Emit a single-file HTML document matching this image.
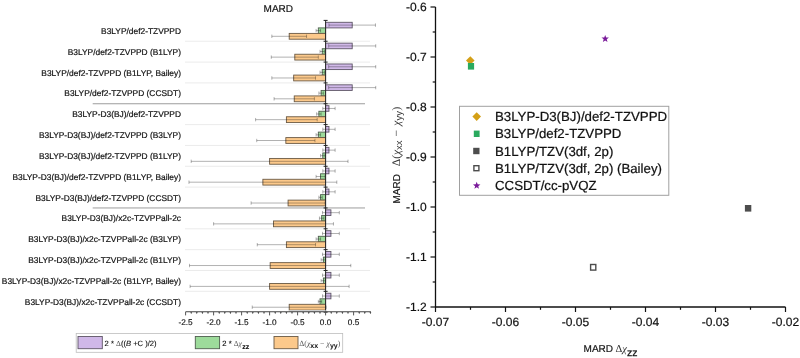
<!DOCTYPE html>
<html><head><meta charset="utf-8"><style>
html,body{margin:0;padding:0;background:#fff;width:800px;height:358px;overflow:hidden}
svg{display:block;will-change:transform}
</style></head><body>
<svg text-rendering="geometricPrecision" width="800" height="358" viewBox="0 0 800 358">
<rect width="800" height="358" fill="#fff"/>
<text x="278.3" y="12.2" font-size="10" text-anchor="middle" font-family="Liberation Sans, sans-serif" fill="#111" stroke="#111" stroke-width="0.18">MARD</text>
<line x1="185" y1="41.24" x2="370" y2="41.24" stroke="#e6e6e6" stroke-width="0.8"/>
<line x1="185" y1="62.08" x2="370" y2="62.08" stroke="#e6e6e6" stroke-width="0.8"/>
<line x1="185" y1="82.92" x2="370" y2="82.92" stroke="#e6e6e6" stroke-width="0.8"/>
<line x1="92.7" y1="103.76" x2="365" y2="103.76" stroke="#9c9c9c" stroke-width="1"/>
<line x1="185" y1="124.60" x2="370" y2="124.60" stroke="#e6e6e6" stroke-width="0.8"/>
<line x1="185" y1="145.44" x2="370" y2="145.44" stroke="#e6e6e6" stroke-width="0.8"/>
<line x1="185" y1="166.28" x2="370" y2="166.28" stroke="#e6e6e6" stroke-width="0.8"/>
<line x1="185" y1="187.12" x2="370" y2="187.12" stroke="#e6e6e6" stroke-width="0.8"/>
<line x1="92.7" y1="207.96" x2="365" y2="207.96" stroke="#9c9c9c" stroke-width="1"/>
<line x1="185" y1="228.80" x2="370" y2="228.80" stroke="#e6e6e6" stroke-width="0.8"/>
<line x1="185" y1="249.64" x2="370" y2="249.64" stroke="#e6e6e6" stroke-width="0.8"/>
<line x1="185" y1="270.48" x2="370" y2="270.48" stroke="#e6e6e6" stroke-width="0.8"/>
<line x1="185" y1="291.32" x2="370" y2="291.32" stroke="#e6e6e6" stroke-width="0.8"/>
<text x="181" y="33.82" font-size="8.4" text-anchor="end" font-family="Liberation Sans, sans-serif" fill="#111" stroke="#111" stroke-width="0.2">B3LYP/def2-TZVPPD</text>
<text x="181" y="54.66" font-size="8.4" text-anchor="end" font-family="Liberation Sans, sans-serif" fill="#111" stroke="#111" stroke-width="0.2">B3LYP/def2-TZVPPD (B1LYP)</text>
<text x="181" y="75.50" font-size="8.4" text-anchor="end" font-family="Liberation Sans, sans-serif" fill="#111" stroke="#111" stroke-width="0.2">B3LYP/def2-TZVPPD (B1LYP, Bailey)</text>
<text x="181" y="96.34" font-size="8.4" text-anchor="end" font-family="Liberation Sans, sans-serif" fill="#111" stroke="#111" stroke-width="0.2">B3LYP/def2-TZVPPD (CCSDT)</text>
<text x="181" y="117.18" font-size="8.4" text-anchor="end" font-family="Liberation Sans, sans-serif" fill="#111" stroke="#111" stroke-width="0.2">B3LYP-D3(BJ)/def2-TZVPPD</text>
<text x="181" y="138.02" font-size="8.4" text-anchor="end" font-family="Liberation Sans, sans-serif" fill="#111" stroke="#111" stroke-width="0.2">B3LYP-D3(BJ)/def2-TZVPPD (B3LYP)</text>
<text x="181" y="158.86" font-size="8.4" text-anchor="end" font-family="Liberation Sans, sans-serif" fill="#111" stroke="#111" stroke-width="0.2">B3LYP-D3(BJ)/def2-TZVPPD (B1LYP)</text>
<text x="181" y="179.70" font-size="8.4" text-anchor="end" font-family="Liberation Sans, sans-serif" fill="#111" stroke="#111" stroke-width="0.2">B3LYP-D3(BJ)/def2-TZVPPD (B1LYP, Bailey)</text>
<text x="181" y="200.54" font-size="8.4" text-anchor="end" font-family="Liberation Sans, sans-serif" fill="#111" stroke="#111" stroke-width="0.2">B3LYP-D3(BJ)/def2-TZVPPD (CCSDT)</text>
<text x="181" y="221.38" font-size="8.4" text-anchor="end" font-family="Liberation Sans, sans-serif" fill="#111" stroke="#111" stroke-width="0.2">B3LYP-D3(BJ)/x2c-TZVPPall-2c</text>
<text x="181" y="242.22" font-size="8.4" text-anchor="end" font-family="Liberation Sans, sans-serif" fill="#111" stroke="#111" stroke-width="0.2">B3LYP-D3(BJ)/x2c-TZVPPall-2c (B3LYP)</text>
<text x="181" y="263.06" font-size="8.4" text-anchor="end" font-family="Liberation Sans, sans-serif" fill="#111" stroke="#111" stroke-width="0.2">B3LYP-D3(BJ)/x2c-TZVPPall-2c (B1LYP)</text>
<text x="181" y="283.90" font-size="8.4" text-anchor="end" font-family="Liberation Sans, sans-serif" fill="#111" stroke="#111" stroke-width="0.2">B3LYP-D3(BJ)/x2c-TZVPPall-2c (B1LYP, Bailey)</text>
<text x="181" y="304.74" font-size="8.4" text-anchor="end" font-family="Liberation Sans, sans-serif" fill="#111" stroke="#111" stroke-width="0.2">B3LYP-D3(BJ)/x2c-TZVPPall-2c (CCSDT)</text>
<rect x="325.60" y="22.30" width="26.60" height="5.60" fill="#d0b8e8" stroke="#5e5566" stroke-width="0.9"/>
<rect x="318.32" y="27.90" width="7.28" height="5.50" fill="#9ddb9b" stroke="#4f5e4f" stroke-width="0.9"/>
<rect x="289.20" y="33.40" width="36.40" height="5.80" fill="#fcc98b" stroke="#6b5a45" stroke-width="0.9"/>
<path d="M328.96,25.10H375.44M328.96,23.40V26.80M375.44,23.40V26.80" stroke="#000" stroke-opacity="0.34" stroke-width="0.9" fill="none"/>
<path d="M316.08,30.65H320.56M316.08,28.95V32.35M320.56,28.95V32.35" stroke="#000" stroke-opacity="0.34" stroke-width="0.9" fill="none"/>
<path d="M271.84,36.30H306.56M271.84,34.60V38.00M306.56,34.60V38.00" stroke="#000" stroke-opacity="0.34" stroke-width="0.9" fill="none"/>
<rect x="325.60" y="43.14" width="26.60" height="5.60" fill="#d0b8e8" stroke="#5e5566" stroke-width="0.9"/>
<rect x="322.24" y="48.74" width="3.36" height="5.50" fill="#9ddb9b" stroke="#4f5e4f" stroke-width="0.9"/>
<rect x="294.80" y="54.24" width="30.80" height="5.80" fill="#fcc98b" stroke="#6b5a45" stroke-width="0.9"/>
<path d="M328.68,45.94H375.72M328.68,44.24V47.64M375.72,44.24V47.64" stroke="#000" stroke-opacity="0.34" stroke-width="0.9" fill="none"/>
<path d="M320.00,51.49H324.48M320.00,49.79V53.19M324.48,49.79V53.19" stroke="#000" stroke-opacity="0.34" stroke-width="0.9" fill="none"/>
<path d="M271.28,57.14H318.32M271.28,55.44V58.84M318.32,55.44V58.84" stroke="#000" stroke-opacity="0.34" stroke-width="0.9" fill="none"/>
<rect x="325.60" y="63.98" width="26.60" height="5.60" fill="#d0b8e8" stroke="#5e5566" stroke-width="0.9"/>
<rect x="322.24" y="69.58" width="3.36" height="5.50" fill="#9ddb9b" stroke="#4f5e4f" stroke-width="0.9"/>
<rect x="293.68" y="75.08" width="31.92" height="5.80" fill="#fcc98b" stroke="#6b5a45" stroke-width="0.9"/>
<path d="M328.68,66.78H375.72M328.68,65.08V68.48M375.72,65.08V68.48" stroke="#000" stroke-opacity="0.34" stroke-width="0.9" fill="none"/>
<path d="M320.00,72.33H324.48M320.00,70.63V74.03M324.48,70.63V74.03" stroke="#000" stroke-opacity="0.34" stroke-width="0.9" fill="none"/>
<path d="M271.84,77.98H315.52M271.84,76.28V79.68M315.52,76.28V79.68" stroke="#000" stroke-opacity="0.34" stroke-width="0.9" fill="none"/>
<rect x="325.60" y="84.82" width="26.60" height="5.60" fill="#d0b8e8" stroke="#5e5566" stroke-width="0.9"/>
<rect x="321.12" y="90.42" width="4.48" height="5.50" fill="#9ddb9b" stroke="#4f5e4f" stroke-width="0.9"/>
<rect x="294.24" y="95.92" width="31.36" height="5.80" fill="#fcc98b" stroke="#6b5a45" stroke-width="0.9"/>
<path d="M328.68,87.62H375.72M328.68,85.92V89.32M375.72,85.92V89.32" stroke="#000" stroke-opacity="0.34" stroke-width="0.9" fill="none"/>
<path d="M318.88,93.17H323.36M318.88,91.47V94.87M323.36,91.47V94.87" stroke="#000" stroke-opacity="0.34" stroke-width="0.9" fill="none"/>
<path d="M274.08,98.82H314.40M274.08,97.12V100.52M314.40,97.12V100.52" stroke="#000" stroke-opacity="0.34" stroke-width="0.9" fill="none"/>
<rect x="325.60" y="105.66" width="3.36" height="5.60" fill="#d0b8e8" stroke="#5e5566" stroke-width="0.9"/>
<rect x="318.88" y="111.26" width="6.72" height="5.50" fill="#9ddb9b" stroke="#4f5e4f" stroke-width="0.9"/>
<rect x="286.40" y="116.76" width="39.20" height="5.80" fill="#fcc98b" stroke="#6b5a45" stroke-width="0.9"/>
<path d="M322.80,108.46H335.12M322.80,106.76V110.16M335.12,106.76V110.16" stroke="#000" stroke-opacity="0.34" stroke-width="0.9" fill="none"/>
<path d="M316.64,114.01H321.12M316.64,112.31V115.71M321.12,112.31V115.71" stroke="#000" stroke-opacity="0.34" stroke-width="0.9" fill="none"/>
<path d="M255.60,119.66H317.20M255.60,117.96V121.36M317.20,117.96V121.36" stroke="#000" stroke-opacity="0.34" stroke-width="0.9" fill="none"/>
<rect x="325.60" y="126.50" width="3.36" height="5.60" fill="#d0b8e8" stroke="#5e5566" stroke-width="0.9"/>
<rect x="318.32" y="132.10" width="7.28" height="5.50" fill="#9ddb9b" stroke="#4f5e4f" stroke-width="0.9"/>
<rect x="285.84" y="137.60" width="39.76" height="5.80" fill="#fcc98b" stroke="#6b5a45" stroke-width="0.9"/>
<path d="M322.80,129.30H335.12M322.80,127.60V131.00M335.12,127.60V131.00" stroke="#000" stroke-opacity="0.34" stroke-width="0.9" fill="none"/>
<path d="M316.08,134.85H320.56M316.08,133.15V136.55M320.56,133.15V136.55" stroke="#000" stroke-opacity="0.34" stroke-width="0.9" fill="none"/>
<path d="M256.72,140.50H314.96M256.72,138.80V142.20M314.96,138.80V142.20" stroke="#000" stroke-opacity="0.34" stroke-width="0.9" fill="none"/>
<rect x="325.60" y="147.34" width="3.36" height="5.60" fill="#d0b8e8" stroke="#5e5566" stroke-width="0.9"/>
<rect x="322.80" y="152.94" width="2.80" height="5.50" fill="#9ddb9b" stroke="#4f5e4f" stroke-width="0.9"/>
<rect x="269.60" y="158.44" width="56.00" height="5.80" fill="#fcc98b" stroke="#6b5a45" stroke-width="0.9"/>
<path d="M322.80,150.14H335.12M322.80,148.44V151.84M335.12,148.44V151.84" stroke="#000" stroke-opacity="0.34" stroke-width="0.9" fill="none"/>
<path d="M320.56,155.69H325.04M320.56,153.99V157.39M325.04,153.99V157.39" stroke="#000" stroke-opacity="0.34" stroke-width="0.9" fill="none"/>
<path d="M191.20,161.34H348.00M191.20,159.64V163.04M348.00,159.64V163.04" stroke="#000" stroke-opacity="0.34" stroke-width="0.9" fill="none"/>
<rect x="325.60" y="168.18" width="3.36" height="5.60" fill="#d0b8e8" stroke="#5e5566" stroke-width="0.9"/>
<rect x="320.56" y="173.78" width="5.04" height="5.50" fill="#9ddb9b" stroke="#4f5e4f" stroke-width="0.9"/>
<rect x="262.88" y="179.28" width="62.72" height="5.80" fill="#fcc98b" stroke="#6b5a45" stroke-width="0.9"/>
<path d="M322.80,170.98H335.12M322.80,169.28V172.68M335.12,169.28V172.68" stroke="#000" stroke-opacity="0.34" stroke-width="0.9" fill="none"/>
<path d="M316.08,176.53H325.04M316.08,174.83V178.23M325.04,174.83V178.23" stroke="#000" stroke-opacity="0.34" stroke-width="0.9" fill="none"/>
<path d="M188.96,182.18H336.80M188.96,180.48V183.88M336.80,180.48V183.88" stroke="#000" stroke-opacity="0.34" stroke-width="0.9" fill="none"/>
<rect x="325.60" y="189.02" width="3.36" height="5.60" fill="#d0b8e8" stroke="#5e5566" stroke-width="0.9"/>
<rect x="320.56" y="194.62" width="5.04" height="5.50" fill="#9ddb9b" stroke="#4f5e4f" stroke-width="0.9"/>
<rect x="288.08" y="200.12" width="37.52" height="5.80" fill="#fcc98b" stroke="#6b5a45" stroke-width="0.9"/>
<path d="M322.80,191.82H335.12M322.80,190.12V193.52M335.12,190.12V193.52" stroke="#000" stroke-opacity="0.34" stroke-width="0.9" fill="none"/>
<path d="M318.88,197.37H322.24M318.88,195.67V199.07M322.24,195.67V199.07" stroke="#000" stroke-opacity="0.34" stroke-width="0.9" fill="none"/>
<path d="M251.12,203.02H325.04M251.12,201.32V204.72M325.04,201.32V204.72" stroke="#000" stroke-opacity="0.34" stroke-width="0.9" fill="none"/>
<rect x="325.60" y="209.86" width="5.32" height="5.60" fill="#d0b8e8" stroke="#5e5566" stroke-width="0.9"/>
<rect x="321.68" y="215.46" width="3.92" height="5.50" fill="#9ddb9b" stroke="#4f5e4f" stroke-width="0.9"/>
<rect x="273.52" y="220.96" width="52.08" height="5.80" fill="#fcc98b" stroke="#6b5a45" stroke-width="0.9"/>
<path d="M322.52,212.66H339.32M322.52,210.96V214.36M339.32,210.96V214.36" stroke="#000" stroke-opacity="0.34" stroke-width="0.9" fill="none"/>
<path d="M319.44,218.21H323.92M319.44,216.51V219.91M323.92,216.51V219.91" stroke="#000" stroke-opacity="0.34" stroke-width="0.9" fill="none"/>
<path d="M213.60,223.86H333.44M213.60,222.16V225.56M333.44,222.16V225.56" stroke="#000" stroke-opacity="0.34" stroke-width="0.9" fill="none"/>
<rect x="325.60" y="230.70" width="5.32" height="5.60" fill="#d0b8e8" stroke="#5e5566" stroke-width="0.9"/>
<rect x="318.32" y="236.30" width="7.28" height="5.50" fill="#9ddb9b" stroke="#4f5e4f" stroke-width="0.9"/>
<rect x="286.40" y="241.80" width="39.20" height="5.80" fill="#fcc98b" stroke="#6b5a45" stroke-width="0.9"/>
<path d="M322.52,233.50H339.32M322.52,231.80V235.20M339.32,231.80V235.20" stroke="#000" stroke-opacity="0.34" stroke-width="0.9" fill="none"/>
<path d="M316.08,239.05H320.56M316.08,237.35V240.75M320.56,237.35V240.75" stroke="#000" stroke-opacity="0.34" stroke-width="0.9" fill="none"/>
<path d="M257.28,244.70H315.52M257.28,243.00V246.40M315.52,243.00V246.40" stroke="#000" stroke-opacity="0.34" stroke-width="0.9" fill="none"/>
<rect x="325.60" y="251.54" width="5.32" height="5.60" fill="#d0b8e8" stroke="#5e5566" stroke-width="0.9"/>
<rect x="323.36" y="257.14" width="2.24" height="5.50" fill="#9ddb9b" stroke="#4f5e4f" stroke-width="0.9"/>
<rect x="270.16" y="262.64" width="55.44" height="5.80" fill="#fcc98b" stroke="#6b5a45" stroke-width="0.9"/>
<path d="M322.52,254.34H339.32M322.52,252.64V256.04M339.32,252.64V256.04" stroke="#000" stroke-opacity="0.34" stroke-width="0.9" fill="none"/>
<path d="M321.12,259.89H325.60M321.12,258.19V261.59M325.60,258.19V261.59" stroke="#000" stroke-opacity="0.34" stroke-width="0.9" fill="none"/>
<path d="M189.52,265.54H350.80M189.52,263.84V267.24M350.80,263.84V267.24" stroke="#000" stroke-opacity="0.34" stroke-width="0.9" fill="none"/>
<rect x="325.60" y="272.38" width="5.32" height="5.60" fill="#d0b8e8" stroke="#5e5566" stroke-width="0.9"/>
<rect x="323.36" y="277.98" width="2.24" height="5.50" fill="#9ddb9b" stroke="#4f5e4f" stroke-width="0.9"/>
<rect x="269.60" y="283.48" width="56.00" height="5.80" fill="#fcc98b" stroke="#6b5a45" stroke-width="0.9"/>
<path d="M322.52,275.18H339.32M322.52,273.48V276.88M339.32,273.48V276.88" stroke="#000" stroke-opacity="0.34" stroke-width="0.9" fill="none"/>
<path d="M321.12,280.73H325.60M321.12,279.03V282.43M325.60,279.03V282.43" stroke="#000" stroke-opacity="0.34" stroke-width="0.9" fill="none"/>
<path d="M190.08,286.38H349.12M190.08,284.68V288.08M349.12,284.68V288.08" stroke="#000" stroke-opacity="0.34" stroke-width="0.9" fill="none"/>
<rect x="325.60" y="293.22" width="5.32" height="5.60" fill="#d0b8e8" stroke="#5e5566" stroke-width="0.9"/>
<rect x="320.00" y="298.82" width="5.60" height="5.50" fill="#9ddb9b" stroke="#4f5e4f" stroke-width="0.9"/>
<rect x="289.20" y="304.32" width="36.40" height="5.80" fill="#fcc98b" stroke="#6b5a45" stroke-width="0.9"/>
<path d="M322.52,296.02H339.32M322.52,294.32V297.72M339.32,294.32V297.72" stroke="#000" stroke-opacity="0.34" stroke-width="0.9" fill="none"/>
<path d="M318.32,301.57H321.68M318.32,299.87V303.27M321.68,299.87V303.27" stroke="#000" stroke-opacity="0.34" stroke-width="0.9" fill="none"/>
<path d="M252.24,307.22H326.16M252.24,305.52V308.92M326.16,305.52V308.92" stroke="#000" stroke-opacity="0.34" stroke-width="0.9" fill="none"/>
<line x1="325.6" y1="20.4" x2="325.6" y2="312.15999999999997" stroke="#2a2a2a" stroke-width="1"/>
<line x1="323.6" y1="20.40" x2="327.6" y2="20.40" stroke="#222" stroke-width="1"/>
<line x1="323.6" y1="41.24" x2="327.6" y2="41.24" stroke="#222" stroke-width="1"/>
<line x1="323.6" y1="62.08" x2="327.6" y2="62.08" stroke="#222" stroke-width="1"/>
<line x1="323.6" y1="82.92" x2="327.6" y2="82.92" stroke="#222" stroke-width="1"/>
<line x1="323.6" y1="103.76" x2="327.6" y2="103.76" stroke="#222" stroke-width="1"/>
<line x1="323.6" y1="124.60" x2="327.6" y2="124.60" stroke="#222" stroke-width="1"/>
<line x1="323.6" y1="145.44" x2="327.6" y2="145.44" stroke="#222" stroke-width="1"/>
<line x1="323.6" y1="166.28" x2="327.6" y2="166.28" stroke="#222" stroke-width="1"/>
<line x1="323.6" y1="187.12" x2="327.6" y2="187.12" stroke="#222" stroke-width="1"/>
<line x1="323.6" y1="207.96" x2="327.6" y2="207.96" stroke="#222" stroke-width="1"/>
<line x1="323.6" y1="228.80" x2="327.6" y2="228.80" stroke="#222" stroke-width="1"/>
<line x1="323.6" y1="249.64" x2="327.6" y2="249.64" stroke="#222" stroke-width="1"/>
<line x1="323.6" y1="270.48" x2="327.6" y2="270.48" stroke="#222" stroke-width="1"/>
<line x1="323.6" y1="291.32" x2="327.6" y2="291.32" stroke="#222" stroke-width="1"/>
<line x1="323.6" y1="312.16" x2="327.6" y2="312.16" stroke="#222" stroke-width="1"/>
<rect x="289.20" y="310.00" width="36.40" height="1.8" fill="#cfcfcf"/>
<line x1="185.60" y1="311.80" x2="370.96" y2="311.80" stroke="#444" stroke-width="1.1"/>
<line x1="185.60" y1="311.80" x2="185.60" y2="315.40" stroke="#555" stroke-width="1"/>
<path d="M190.30,312.30L192.10,312.30L191.20,314.10Z" fill="#222"/>
<path d="M195.90,312.30L197.70,312.30L196.80,314.10Z" fill="#222"/>
<path d="M201.50,312.30L203.30,312.30L202.40,314.10Z" fill="#222"/>
<path d="M207.10,312.30L208.90,312.30L208.00,314.10Z" fill="#222"/>
<line x1="213.60" y1="311.80" x2="213.60" y2="315.40" stroke="#555" stroke-width="1"/>
<path d="M218.30,312.30L220.10,312.30L219.20,314.10Z" fill="#222"/>
<path d="M223.90,312.30L225.70,312.30L224.80,314.10Z" fill="#222"/>
<path d="M229.50,312.30L231.30,312.30L230.40,314.10Z" fill="#222"/>
<path d="M235.10,312.30L236.90,312.30L236.00,314.10Z" fill="#222"/>
<line x1="241.60" y1="311.80" x2="241.60" y2="315.40" stroke="#555" stroke-width="1"/>
<path d="M246.30,312.30L248.10,312.30L247.20,314.10Z" fill="#222"/>
<path d="M251.90,312.30L253.70,312.30L252.80,314.10Z" fill="#222"/>
<path d="M257.50,312.30L259.30,312.30L258.40,314.10Z" fill="#222"/>
<path d="M263.10,312.30L264.90,312.30L264.00,314.10Z" fill="#222"/>
<line x1="269.60" y1="311.80" x2="269.60" y2="315.40" stroke="#555" stroke-width="1"/>
<path d="M274.30,312.30L276.10,312.30L275.20,314.10Z" fill="#222"/>
<path d="M279.90,312.30L281.70,312.30L280.80,314.10Z" fill="#222"/>
<path d="M285.50,312.30L287.30,312.30L286.40,314.10Z" fill="#222"/>
<path d="M291.10,312.30L292.90,312.30L292.00,314.10Z" fill="#222"/>
<line x1="297.60" y1="311.80" x2="297.60" y2="315.40" stroke="#555" stroke-width="1"/>
<path d="M302.30,312.30L304.10,312.30L303.20,314.10Z" fill="#222"/>
<path d="M307.90,312.30L309.70,312.30L308.80,314.10Z" fill="#222"/>
<path d="M313.50,312.30L315.30,312.30L314.40,314.10Z" fill="#222"/>
<path d="M319.10,312.30L320.90,312.30L320.00,314.10Z" fill="#222"/>
<line x1="325.60" y1="311.80" x2="325.60" y2="315.40" stroke="#555" stroke-width="1"/>
<path d="M330.30,312.30L332.10,312.30L331.20,314.10Z" fill="#222"/>
<path d="M335.90,312.30L337.70,312.30L336.80,314.10Z" fill="#222"/>
<path d="M341.50,312.30L343.30,312.30L342.40,314.10Z" fill="#222"/>
<path d="M347.10,312.30L348.90,312.30L348.00,314.10Z" fill="#222"/>
<line x1="353.60" y1="311.80" x2="353.60" y2="315.40" stroke="#555" stroke-width="1"/>
<path d="M358.30,312.30L360.10,312.30L359.20,314.10Z" fill="#222"/>
<path d="M363.90,312.30L365.70,312.30L364.80,314.10Z" fill="#222"/>
<path d="M369.50,312.30L371.30,312.30L370.40,314.10Z" fill="#222"/>
<text x="185.60" y="324.7" font-size="8.25" text-anchor="middle" font-family="Liberation Sans, sans-serif" fill="#111" stroke="#111" stroke-width="0.15">-2.5</text>
<text x="213.60" y="324.7" font-size="8.25" text-anchor="middle" font-family="Liberation Sans, sans-serif" fill="#111" stroke="#111" stroke-width="0.15">-2.0</text>
<text x="241.60" y="324.7" font-size="8.25" text-anchor="middle" font-family="Liberation Sans, sans-serif" fill="#111" stroke="#111" stroke-width="0.15">-1.5</text>
<text x="269.60" y="324.7" font-size="8.25" text-anchor="middle" font-family="Liberation Sans, sans-serif" fill="#111" stroke="#111" stroke-width="0.15">-1.0</text>
<text x="297.60" y="324.7" font-size="8.25" text-anchor="middle" font-family="Liberation Sans, sans-serif" fill="#111" stroke="#111" stroke-width="0.15">-0.5</text>
<text x="325.60" y="324.7" font-size="8.25" text-anchor="middle" font-family="Liberation Sans, sans-serif" fill="#111" stroke="#111" stroke-width="0.15">0.0</text>
<text x="353.60" y="324.7" font-size="8.25" text-anchor="middle" font-family="Liberation Sans, sans-serif" fill="#111" stroke="#111" stroke-width="0.15">0.5</text>
<rect x="76.2" y="333.5" width="266.5" height="18.8" fill="#fff" stroke="#bdbdbd" stroke-width="0.8"/>
<rect x="78" y="336.5" width="24.3" height="12.2" fill="#d0b8e8" stroke="#5e5566" stroke-width="0.9"/>
<rect x="195.3" y="336.5" width="24.3" height="12.2" fill="#9ddb9b" stroke="#4f5e4f" stroke-width="0.9"/>
<rect x="274" y="336.5" width="24" height="12.2" fill="#fcc98b" stroke="#6b5a45" stroke-width="0.9"/>
<text x="104.6" y="345.8" font-size="7.6" font-family="Liberation Sans, sans-serif" fill="#111" stroke="#111" stroke-width="0.12">2 * <tspan font-family="Liberation Serif, serif" stroke="none" fill="#444">Δ</tspan>((<tspan font-style="italic">B</tspan> +C )/2)</text>
<text x="222.3" y="345.8" font-size="7.6" font-family="Liberation Sans, sans-serif" fill="#111" stroke="#111" stroke-width="0.15">2 * <tspan font-family="Liberation Serif, serif" fill="#555" stroke="none">Δ<tspan font-style="italic">χ</tspan></tspan><tspan font-weight="bold" dy="3.1" font-size="7" dx="0.3">zz</tspan></text>
<text x="299.3" y="345.8" font-size="7.8" font-family="Liberation Serif, serif" fill="#555">Δ(<tspan font-style="italic">χ</tspan><tspan font-family="Liberation Sans, sans-serif" font-weight="bold" dy="2.6" font-size="7" fill="#111">xx</tspan><tspan dy="-2.6"> − </tspan><tspan font-style="italic">χ</tspan><tspan font-family="Liberation Sans, sans-serif" font-weight="bold" dy="2.6" font-size="7" fill="#111">yy</tspan><tspan dy="-2.6">)</tspan></text>
<line x1="435.5" y1="7.0" x2="435.5" y2="307.00" stroke="#111" stroke-width="1.3"/>
<line x1="435.5" y1="307.00" x2="785.50" y2="307.00" stroke="#111" stroke-width="1.3"/>
<line x1="430.50" y1="7.00" x2="435.5" y2="7.00" stroke="#111" stroke-width="1.2"/>
<line x1="432.70" y1="32.00" x2="435.5" y2="32.00" stroke="#111" stroke-width="1.2"/>
<line x1="430.50" y1="57.00" x2="435.5" y2="57.00" stroke="#111" stroke-width="1.2"/>
<line x1="432.70" y1="82.00" x2="435.5" y2="82.00" stroke="#111" stroke-width="1.2"/>
<line x1="430.50" y1="107.00" x2="435.5" y2="107.00" stroke="#111" stroke-width="1.2"/>
<line x1="432.70" y1="132.00" x2="435.5" y2="132.00" stroke="#111" stroke-width="1.2"/>
<line x1="430.50" y1="157.00" x2="435.5" y2="157.00" stroke="#111" stroke-width="1.2"/>
<line x1="432.70" y1="182.00" x2="435.5" y2="182.00" stroke="#111" stroke-width="1.2"/>
<line x1="430.50" y1="207.00" x2="435.5" y2="207.00" stroke="#111" stroke-width="1.2"/>
<line x1="432.70" y1="232.00" x2="435.5" y2="232.00" stroke="#111" stroke-width="1.2"/>
<line x1="430.50" y1="257.00" x2="435.5" y2="257.00" stroke="#111" stroke-width="1.2"/>
<line x1="432.70" y1="282.00" x2="435.5" y2="282.00" stroke="#111" stroke-width="1.2"/>
<line x1="430.50" y1="307.00" x2="435.5" y2="307.00" stroke="#111" stroke-width="1.2"/>
<line x1="435.50" y1="307.00" x2="435.50" y2="312.00" stroke="#111" stroke-width="1.2"/>
<line x1="470.50" y1="307.00" x2="470.50" y2="309.80" stroke="#111" stroke-width="1.2"/>
<line x1="505.50" y1="307.00" x2="505.50" y2="312.00" stroke="#111" stroke-width="1.2"/>
<line x1="540.50" y1="307.00" x2="540.50" y2="309.80" stroke="#111" stroke-width="1.2"/>
<line x1="575.50" y1="307.00" x2="575.50" y2="312.00" stroke="#111" stroke-width="1.2"/>
<line x1="610.50" y1="307.00" x2="610.50" y2="309.80" stroke="#111" stroke-width="1.2"/>
<line x1="645.50" y1="307.00" x2="645.50" y2="312.00" stroke="#111" stroke-width="1.2"/>
<line x1="680.50" y1="307.00" x2="680.50" y2="309.80" stroke="#111" stroke-width="1.2"/>
<line x1="715.50" y1="307.00" x2="715.50" y2="312.00" stroke="#111" stroke-width="1.2"/>
<line x1="750.50" y1="307.00" x2="750.50" y2="309.80" stroke="#111" stroke-width="1.2"/>
<line x1="785.50" y1="307.00" x2="785.50" y2="312.00" stroke="#111" stroke-width="1.2"/>
<text x="426.7" y="10.90" font-size="12" text-anchor="end" font-family="Liberation Sans, sans-serif" fill="#111" stroke="#111" stroke-width="0.2">-0.6</text>
<text x="426.7" y="60.90" font-size="12" text-anchor="end" font-family="Liberation Sans, sans-serif" fill="#111" stroke="#111" stroke-width="0.2">-0.7</text>
<text x="426.7" y="110.90" font-size="12" text-anchor="end" font-family="Liberation Sans, sans-serif" fill="#111" stroke="#111" stroke-width="0.2">-0.8</text>
<text x="426.7" y="160.90" font-size="12" text-anchor="end" font-family="Liberation Sans, sans-serif" fill="#111" stroke="#111" stroke-width="0.2">-0.9</text>
<text x="426.7" y="210.90" font-size="12" text-anchor="end" font-family="Liberation Sans, sans-serif" fill="#111" stroke="#111" stroke-width="0.2">-1.0</text>
<text x="426.7" y="260.90" font-size="12" text-anchor="end" font-family="Liberation Sans, sans-serif" fill="#111" stroke="#111" stroke-width="0.2">-1.1</text>
<text x="426.7" y="310.90" font-size="12" text-anchor="end" font-family="Liberation Sans, sans-serif" fill="#111" stroke="#111" stroke-width="0.2">-1.2</text>
<text x="435.50" y="326.2" font-size="12" text-anchor="middle" font-family="Liberation Sans, sans-serif" fill="#111" stroke="#111" stroke-width="0.2">-0.07</text>
<text x="505.50" y="326.2" font-size="12" text-anchor="middle" font-family="Liberation Sans, sans-serif" fill="#111" stroke="#111" stroke-width="0.2">-0.06</text>
<text x="575.50" y="326.2" font-size="12" text-anchor="middle" font-family="Liberation Sans, sans-serif" fill="#111" stroke="#111" stroke-width="0.2">-0.05</text>
<text x="645.50" y="326.2" font-size="12" text-anchor="middle" font-family="Liberation Sans, sans-serif" fill="#111" stroke="#111" stroke-width="0.2">-0.04</text>
<text x="715.50" y="326.2" font-size="12" text-anchor="middle" font-family="Liberation Sans, sans-serif" fill="#111" stroke="#111" stroke-width="0.2">-0.03</text>
<text x="785.50" y="326.2" font-size="12" text-anchor="middle" font-family="Liberation Sans, sans-serif" fill="#111" stroke="#111" stroke-width="0.2">-0.02</text>
<polygon points="470.3,56.2 474.6,60.5 470.3,64.8 466.0,60.5" fill="#d4a017"/>
<rect x="467.9" y="63" width="6.2" height="6.6" fill="#2aaa5e"/>
<polygon points="605.20,34.90 606.16,37.47 608.91,37.59 606.76,39.31 607.49,41.96 605.20,40.44 602.91,41.96 603.64,39.31 601.49,37.59 604.24,37.47" fill="#7a1a9a"/>
<rect x="744.9" y="205" width="6.4" height="6.6" fill="#4d4d4d"/>
<rect x="590.6" y="264.5" width="5.2" height="5.6" fill="#fff" stroke="#4d4d4d" stroke-width="1.4"/>
<rect x="459.5" y="106.3" width="209.3" height="89" fill="#fff" stroke="#a0a0a0" stroke-width="1"/>
<polygon points="476.7,112.3 481.0,116.6 476.7,120.89999999999999 472.4,116.6" fill="#d4a017"/>
<rect x="473.8" y="130.60000000000002" width="5.8" height="6.4" fill="#2aaa5e"/>
<rect x="473.2" y="147.8" width="6.3" height="6.4" fill="#4d4d4d"/>
<rect x="473.9" y="165.7" width="5.0" height="5.0" fill="#fff" stroke="#4d4d4d" stroke-width="1.4"/>
<polygon points="476.70,181.80 477.66,184.37 480.41,184.49 478.26,186.21 478.99,188.86 476.70,187.34 474.41,188.86 475.14,186.21 472.99,184.49 475.74,184.37" fill="#7a1a9a"/>
<text x="495.0" y="121.20" font-size="13.25" font-family="Liberation Sans, sans-serif" fill="#111" stroke="#111" stroke-width="0.22">B3LYP-D3(BJ)/def2-TZVPPD</text>
<text x="495.0" y="138.40" font-size="13.25" font-family="Liberation Sans, sans-serif" fill="#111" stroke="#111" stroke-width="0.22">B3LYP/def2-TZVPPD</text>
<text x="495.0" y="155.60" font-size="13.25" font-family="Liberation Sans, sans-serif" fill="#111" stroke="#111" stroke-width="0.22">B1LYP/TZV(3df, 2p)</text>
<text x="495.0" y="172.80" font-size="13.25" font-family="Liberation Sans, sans-serif" fill="#111" stroke="#111" stroke-width="0.22">B1LYP/TZV(3df, 2p) (Bailey)</text>
<text x="495.0" y="190.10" font-size="13.25" font-family="Liberation Sans, sans-serif" fill="#111" stroke="#111" stroke-width="0.22">CCSDT/cc-pVQZ</text>
<text transform="translate(399.7,203.5) rotate(-90)" font-size="10" font-family="Liberation Sans, sans-serif" fill="#111" stroke="#111" stroke-width="0.18">MARD</text>
<text transform="translate(399.7,166.2) rotate(-90)" font-size="11.5" font-family="Liberation Serif, serif" fill="#333">Δ(<tspan font-style="italic">χ</tspan><tspan font-family="Liberation Sans, sans-serif" dy="2" font-size="9.5">xx</tspan><tspan dy="-2" dx="1"> − </tspan><tspan font-style="italic" dx="1.5">χ</tspan><tspan font-family="Liberation Sans, sans-serif" dy="2" font-size="9.5">yy</tspan><tspan dy="-2" dx="0.5">)</tspan></text>
<text x="583.6" y="352.4" font-size="10" font-family="Liberation Sans, sans-serif" fill="#111" stroke="#111" stroke-width="0.18">MARD</text>
<text x="615.6" y="352.4" font-size="10.5" font-family="Liberation Serif, serif" fill="#333">Δ<tspan font-style="italic">χ</tspan><tspan font-family="Liberation Sans, sans-serif" dy="4" font-size="10.5" fill="#111" stroke="#111" stroke-width="0.25">zz</tspan></text>
</svg></body></html>
